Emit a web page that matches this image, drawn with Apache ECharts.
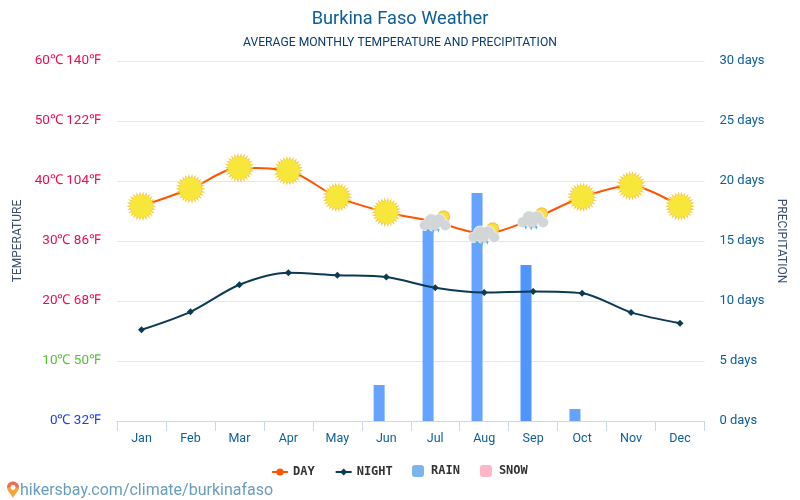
<!DOCTYPE html>
<html>
<head>
<meta charset="utf-8">
<style>html,body{margin:0;padding:0;background:#fff}#container{width:800px;height:500px}</style>
<script src="https://cdn.jsdelivr.net/npm/echarts@6/dist/echarts.min.js"></script>
</head>
<body>
<div id="container"></div>
<script>
var months = ['Jan','Feb','Mar','Apr','May','Jun','Jul','Aug','Sep','Oct','Nov','Dec'];
var dayTemp = [35.8,38.7,42.2,41.7,37.3,34.8,33.2,31.2,33.7,37.3,39.2,35.8];
var nightTemp = [15.2,18.2,22.7,24.7,24.3,24.0,22.2,21.4,21.6,21.3,18.1,16.3];
var rainDays = [0,0,0,0,0,3,16,19,13,1,0,0];
var snowDays = [0,0,0,0,0,0,0,0,0,0,0,0];
var weather = ['sun','sun','sun','sun','sun','sun','rain','rain','rain','sun','sun','sun'];
var tempLabels = {0:'0℃ 32℉',10:'10℃ 50℉',20:'20℃ 68℉',30:'30℃ 86℉',40:'40℃ 104℉',50:'50℃ 122℉',60:'60℃ 140℉'};

function svgUri(svg) {
  return 'image://data:image/svg+xml;charset=utf-8,' + encodeURIComponent(svg);
}
// spiky sun icon
function sunSvg() {
  var pts = [];
  for (var i = 0; i < 52; i++) {
    var r = i % 2 ? 18 : 25;
    var a = i * Math.PI / 26;
    pts.push((25 + r * Math.cos(a)).toFixed(2) + ',' + (25 + r * Math.sin(a)).toFixed(2));
  }
  return '<svg xmlns="http://www.w3.org/2000/svg" width="120" height="120" viewBox="0 0 50 50">' +
    '<polygon points="' + pts.join(' ') + '" fill="#f7cd48"/>' +
    '<circle cx="25" cy="25" r="18.5" fill="#f7e73a"/></svg>';
}
// cloud with a bit of sun and rain drops
function rainSvg() {
  var bumps = [[11,31,10],[24,22,13],[40,21,12],[52,31,10],[30,32,11]];
  var white = '', grey = '';
  bumps.forEach(function (b) {
    white += '<circle cx="' + b[0] + '" cy="' + b[1] + '" r="' + (b[2] + 1.5) + '" fill="#f4f6f6"/>';
    grey += '<circle cx="' + b[0] + '" cy="' + b[1] + '" r="' + b[2] + '" fill="#d3d6d6"/>';
  });
  return '<svg xmlns="http://www.w3.org/2000/svg" width="128" height="96" viewBox="0 0 64 48">' +
    '<circle cx="49" cy="14" r="13" fill="#f6c445"/><circle cx="49" cy="14" r="10.5" fill="#f7e040"/>' +
    white + grey +
    '<path d="M15 39 l5 0 l-3 7 z M36 39 l5 0 l-3 7 z M26 41 l4 0 l-2 7 z" fill="#45b0e6"/></svg>';
}
function iconFor(kind) { return kind == 'sun' ? svgUri(sunSvg()) : svgUri(rainSvg()); }

var pinSvg = '<svg xmlns="http://www.w3.org/2000/svg" width="28" height="36" viewBox="0 0 14 18">' +
  '<path d="M7 17 C5 13 1 10 1 6.5 A6 6 0 0 1 13 6.5 C13 10 9 13 7 17 Z" fill="#f4a63c"/>' +
  '<path d="M7 .5 A6 6 0 0 1 13 6.5 L10 6.5 A3 3 0 0 0 4 6.5 L1 6.5 A6 6 0 0 1 7 .5 Z" fill="#ee6a5e"/>' +
  '<circle cx="7" cy="6.5" r="2.4" fill="#fff"/></svg>';

var font = 'Roboto';
var legendText = {fontFamily: 'DejaVu Sans Mono', fontSize: 12, fontWeight: 'bold', color: '#333333'};
var myChart = echarts.init(document.getElementById('container'), null, {renderer: 'canvas'});

var option = {
  animation: false,
  backgroundColor: '#fff',
  textStyle: {fontFamily: font},
  title: [
    {text: 'Burkina Faso Weather', left: 395, top: 5, textAlign: 'center',
      textStyle: {fontFamily: font, fontSize: 18.2, fontWeight: 'normal', color: '#0b5e97'}},
    {text: 'AVERAGE MONTHLY TEMPERATURE AND PRECIPITATION', left: 395, top: 32, textAlign: 'center',
      textStyle: {fontFamily: font, fontSize: 12.15, fontWeight: 'normal', color: '#0c3c6e'}}
  ],
  grid: {left: 117, right: 95.5, top: 61, bottom: 79},
  legend: [
    {
      left: 271, top: 466, padding: 0, itemGap: 20, itemWidth: 16, itemHeight: 9,
      selectedMode: false, textStyle: legendText,
      data: ['DAY', 'NIGHT']
    },
    {
      left: 412, top: 465, padding: 0, itemGap: 20, itemWidth: 12, itemHeight: 12,
      selectedMode: false, textStyle: Object.assign({padding: [0, 0, 0, 2]}, legendText),
      data: ['RAIN', 'SNOW']
    }
  ],
  xAxis: {
    type: 'category', data: months, boundaryGap: true,
    axisLine: {lineStyle: {color: '#ccd6eb', width: 1}},
    axisTick: {show: true, length: 10, alignWithLabel: false, lineStyle: {color: '#ccd6eb'}},
    axisLabel: {fontFamily: font, fontSize: 12.5, color: '#0b5e97', margin: 11, interval: 0}
  },
  yAxis: [
    {
      type: 'value', min: 0, max: 60, interval: 10, position: 'left',
      name: 'TEMPERATURE', nameLocation: 'middle', nameGap: 89, nameRotate: 90,
      nameTextStyle: {fontFamily: font, fontSize: 12, color: '#3b4f6b'},
      axisLine: {show: false}, axisTick: {show: false},
      splitLine: {lineStyle: {color: '#e6e6e6', width: 1}},
      axisLabel: {
        fontFamily: font, fontSize: 13.5, margin: 16, padding: [5, 0, 0, 0],
        formatter: function (v) { return tempLabels[v]; },
        color: function (v) {
          v = Number(v);
          if (v == 0) return '#1a3cff';
          if (v == 10) return '#55c030';
          return '#f5094f';
        }
      }
    },
    {
      type: 'value', min: 0, max: 30, interval: 5, position: 'right',
      name: 'PRECIPITATION', nameLocation: 'middle', nameGap: 66, nameRotate: -90,
      nameTextStyle: {fontFamily: font, fontSize: 12, color: '#3b4f6b'},
      axisLine: {show: false}, axisTick: {show: false}, splitLine: {show: false},
      axisLabel: {fontFamily: font, fontSize: 13, margin: 15, padding: [5, 0, 0, 0], color: '#0b5e97',
        formatter: function (v) { return v + ' days'; }}
    }
  ],
  series: [
    {
      name: 'RAIN', type: 'bar', yAxisIndex: 1, barWidth: 11, barGap: '30%', z: 2,
      itemStyle: {color: '#7cb5ec'},
      data: rainDays.map(function (v) {
        return {value: v, itemStyle: {color: v == 13 ? '#4f94ff' : '#66a3ff'}};
      })
    },
    {
      name: 'SNOW', type: 'bar', yAxisIndex: 1, barWidth: 11, barGap: '30%', z: 2,
      itemStyle: {color: '#ffb6c8'}, data: snowDays
    },
    {
      name: 'DAY', type: 'line', smooth: 0.3, z: 4, symbol: 'circle', symbolSize: 8,
      lineStyle: {color: '#ff5500', width: 2}, itemStyle: {color: '#ff5500'},
      data: dayTemp.map(function (v, i) {
        return {value: v, symbol: iconFor(weather[i]),
          symbolSize: weather[i] == 'sun' ? 30 : [32, 24]};
      })
    },
    {
      name: 'NIGHT', type: 'line', smooth: 0.3, z: 3, symbol: 'diamond', symbolSize: 7,
      lineStyle: {color: '#0b3a55', width: 2}, itemStyle: {color: '#0b3a55'},
      data: nightTemp
    }
  ],
  graphic: [
    {type: 'image', left: 6, top: 481, style: {image: 'data:image/svg+xml;charset=utf-8,' + encodeURIComponent(pinSvg), width: 14, height: 18}},
    {type: 'text', left: 20, top: 483, style: {text: 'hikersbay.com/climate/burkinafaso', fontFamily: font, fontSize: 16, fill: '#6a9cbd'}}
  ]
};

myChart.setOption(option, true);
</script>
</body>
</html>
